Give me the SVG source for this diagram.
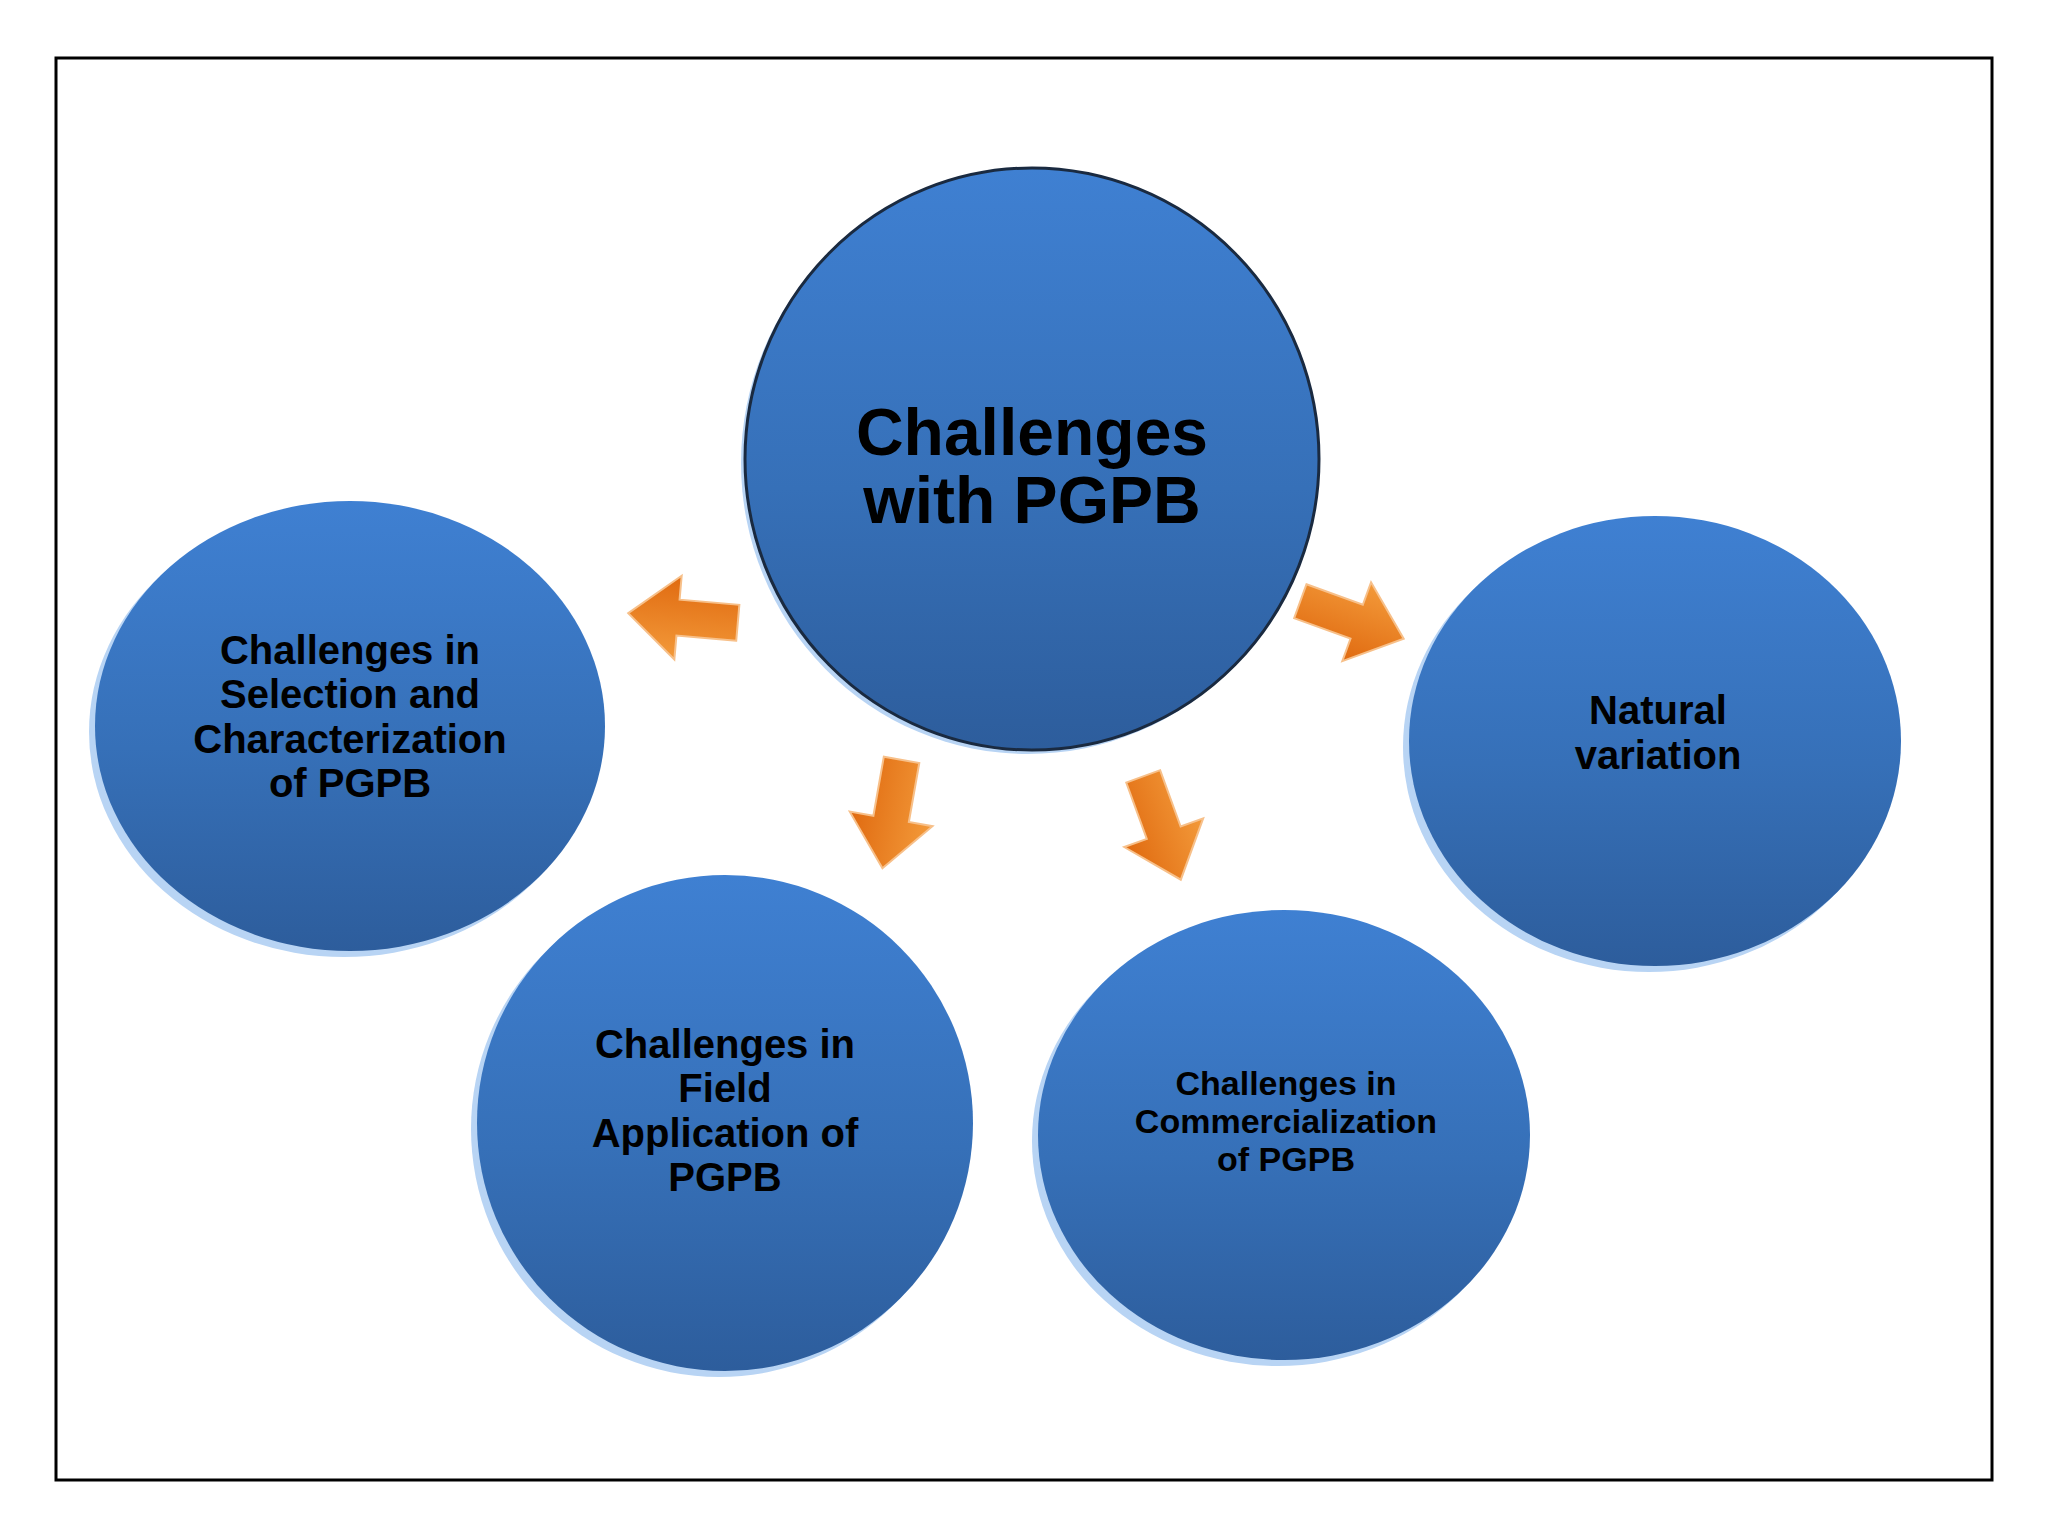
<svg xmlns="http://www.w3.org/2000/svg" width="2048" height="1536" viewBox="0 0 2048 1536">
<defs>
<linearGradient id="bl" x1="0" y1="0" x2="0" y2="1">
<stop offset="0" stop-color="#3f80d2"/><stop offset="0.55" stop-color="#3670b8"/><stop offset="1" stop-color="#2d5d9c"/>
</linearGradient>
<linearGradient id="or" x1="0" y1="0" x2="0" y2="1">
<stop offset="0" stop-color="#f39a3a"/><stop offset="1" stop-color="#e06a10"/>
</linearGradient>
<path id="arr" d="M-55,-18 L5,-18 L5,-42 L55,0 L5,42 L5,18 L-55,18 Z"/>
</defs>
<style>
.rim{fill:#b8d4f4}
.b{fill:url(#bl)}
.t{font-family:"Liberation Sans",Arial,sans-serif;font-weight:bold;fill:#000;text-anchor:middle}
.a{fill:url(#or);stroke:#f7c08a;stroke-width:2}
</style>
<rect x="56" y="58" width="1936" height="1422" fill="#fff" stroke="#000" stroke-width="3"/>
<g id="connectors">
<use href="#arr" class="a" transform="translate(683,618) rotate(185)"/>
<use href="#arr" class="a" transform="translate(1352,620) rotate(20)"/>
<use href="#arr" class="a" transform="translate(892,814) rotate(100)"/>
<use href="#arr" class="a" transform="translate(1162,828) rotate(70)"/>
</g>
<g id="center">
<ellipse cx="1028" cy="463" rx="287" ry="291" class="rim"/>
<ellipse cx="1032" cy="459" rx="287" ry="291" class="b" stroke="#1a2a40" stroke-width="3"/>
<text class="t" font-size="66"><tspan x="1032" y="455">Challenges</tspan><tspan x="1032" y="523">with PGPB</tspan></text>
</g>
<g id="left">
<ellipse cx="344" cy="732" rx="255" ry="225" class="rim"/>
<ellipse cx="350" cy="726" rx="255" ry="225" class="b"/>
<text class="t" font-size="40"><tspan x="350" y="664">Challenges in</tspan><tspan x="350" y="708">Selection and</tspan><tspan x="350" y="753">Characterization</tspan><tspan x="350" y="797">of PGPB</tspan></text>
</g>
<g id="right">
<ellipse cx="1649" cy="747" rx="246" ry="225" class="rim"/>
<ellipse cx="1655" cy="741" rx="246" ry="225" class="b"/>
<text class="t" font-size="40"><tspan x="1658" y="724">Natural</tspan><tspan x="1658" y="769">variation</tspan></text>
</g>
<g id="bottom-left">
<ellipse cx="719" cy="1129" rx="248" ry="248" class="rim"/>
<ellipse cx="725" cy="1123" rx="248" ry="248" class="b"/>
<text class="t" font-size="40"><tspan x="725" y="1058">Challenges in</tspan><tspan x="725" y="1102">Field</tspan><tspan x="725" y="1147">Application of</tspan><tspan x="725" y="1191">PGPB</tspan></text>
</g>
<g id="bottom-right">
<ellipse cx="1278" cy="1141" rx="246" ry="225" class="rim"/>
<ellipse cx="1284" cy="1135" rx="246" ry="225" class="b"/>
<text class="t" font-size="34"><tspan x="1286" y="1095">Challenges in</tspan><tspan x="1286" y="1133">Commercialization</tspan><tspan x="1286" y="1171">of PGPB</tspan></text>
</g>
</svg>
